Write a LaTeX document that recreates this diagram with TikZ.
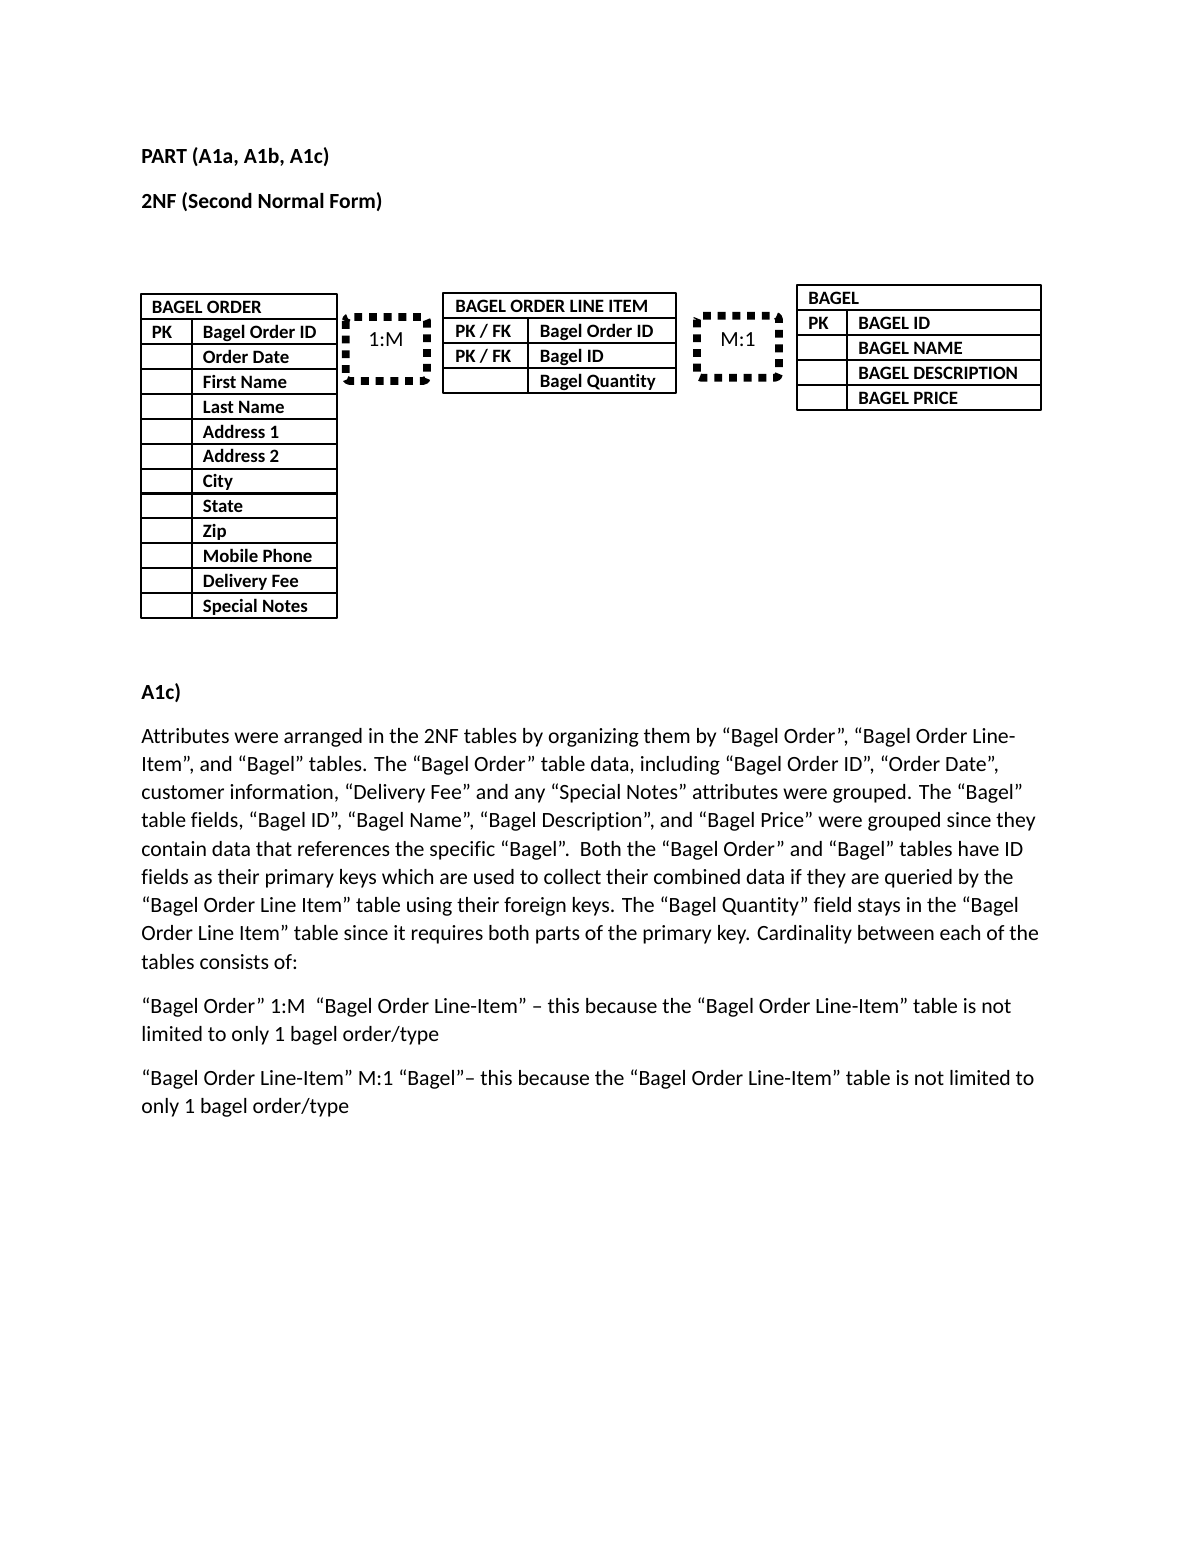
\documentclass[tikz,border=0pt]{standalone}
\usepackage{fontspec}
\setmainfont[Ligatures=NoCommon]{Carlito}
\begin{document}
\begin{tikzpicture}[x=0.51pt,y=-0.51pt,line join=round,
	tbl/.style={draw,line width=1.1pt},
	fld/.style={anchor=base west,inner sep=0pt,font=\bfseries\fontsize{9.6}{12}\selectfont},
	card/.style={line width=4pt,dash pattern=on 4pt off 3.5pt,rounded corners=2pt},
	lbl/.style={inner sep=0pt,font=\fontsize{11}{13}\selectfont},
	txt/.style={anchor=base west,inner sep=0pt,font=\fontsize{11.1}{14}\selectfont},
	head/.style={txt,font=\bfseries\fontsize{11}{14}\selectfont}]
	\fill[white] (0,0) rectangle (1200,1553);
	\useasboundingbox (0,0) rectangle (1200,1553);
	% headings
	\node[head] (part) at (141,164) {PART (A1a, A1b, A1c)};
	\node[head] (nf) at (141,209) {2NF (Second Normal Form)};
	% bagel order
	\draw[tbl] (141,294.3) rectangle (337,319.2);
	\node[fld] (bo) at (151.5,313.5) {BAGEL ORDER};
	\foreach \k/\f [count=\i, evaluate=\i as \y using 294.3+24.9*\i] in
		{PK/Bagel Order ID,/Order Date,/First Name,/Last Name,/Address 1,/Address 2,
		/City,/State,/Zip,/Mobile Phone,/Delivery Fee,/Special Notes}{
		\draw[tbl] (141,\y) rectangle (191.7,\y+24.9) (191.7,\y) rectangle (337,\y+24.9);
		\node[fld] (bo-k\i) at (151.5,\y+19.2) {\k};
		\node[fld] (bo-f\i) at (202.5,\y+19.2) {\f};
	}
	% line item
	\draw[tbl] (443.3,292.7) rectangle (676,317.7);
	\node[fld] (li) at (455,312) {BAGEL ORDER LINE ITEM};
	\foreach \k/\f [count=\i, evaluate=\i as \y using 292.7+25*\i] in
		{{PK / FK}/Bagel Order ID,{PK / FK}/Bagel ID,/Bagel Quantity}{
		\draw[tbl] (443.3,\y) rectangle (528.3,\y+25) (528.3,\y) rectangle (676,\y+25);
		\node[fld] (li-k\i) at (455,\y+19.3) {\k};
		\node[fld] (li-f\i) at (539.5,\y+19.3) {\f};
	}
	% bagel
	\draw[tbl] (796.7,285.3) rectangle (1041,310.3);
	\node[fld] (bg) at (808,304.6) {BAGEL};
	\foreach \k/\f [count=\i, evaluate=\i as \y using 285.3+25*\i] in
		{PK/BAGEL ID,/BAGEL NAME,/BAGEL DESCRIPTION,/BAGEL PRICE}{
		\draw[tbl] (796.7,\y) rectangle (846.7,\y+25) (846.7,\y) rectangle (1041,\y+25);
		\node[fld] (bg-k\i) at (808,\y+19.3) {\k};
		\node[fld] (bg-f\i) at (858,\y+19.3) {\f};
	}
	% cardinality boxes
	\draw[card] (345.7,317) rectangle (427,381);
	\node[lbl] (om) at (386,340) {1:M};
	\draw[card] (697,315.7) rectangle (779,377.7);
	\node[lbl] (mo) at (738,340) {M:1};
	% A1c text
	\node[head] (a1c) at (141,699) {A1c)};
	\foreach \ln [count=\i] in {
		{Attributes were arranged in the 2NF tables by organizing them by “Bagel Order”, “Bagel Order Line-},
		{Item”, and “Bagel” tables. The “Bagel Order” table data, including “Bagel Order ID”, “Order Date”,},
		{customer information, “Delivery Fee” and any “Special Notes” attributes were grouped. The “Bagel”},
		{table fields, “Bagel ID”, “Bagel Name”, “Bagel Description”, and “Bagel Price” were grouped since they},
		{contain data that references the specific “Bagel”.\ \ Both the “Bagel Order” and “Bagel” tables have ID},
		{fields as their primary keys which are used to collect their combined data if they are queried by the},
		{“Bagel Order Line Item” table using their foreign keys. The “Bagel Quantity” field stays in the “Bagel},
		{Order Line Item” table since it requires both parts of the primary key. Cardinality between each of the},
		{tables consists of:}}
		\node[txt] (p1-\i) at (141,743+28.25*\i-28.25) {\ln};
	\node[txt] (p2-1) at (141,1013.5) {“Bagel Order” 1:M\ \ “Bagel Order Line-Item” – this because the “Bagel Order Line-Item” table is not};
	\node[txt] (p2-2) at (141,1041.8) {limited to only 1 bagel order/type};
	\node[txt] (p3-1) at (141,1085) {“Bagel Order Line-Item” M:1 “Bagel”– this because the “Bagel Order Line-Item” table is not limited to};
	\node[txt] (p3-2) at (141,1113.3) {only 1 bagel order/type};
\end{tikzpicture}
\end{document}
